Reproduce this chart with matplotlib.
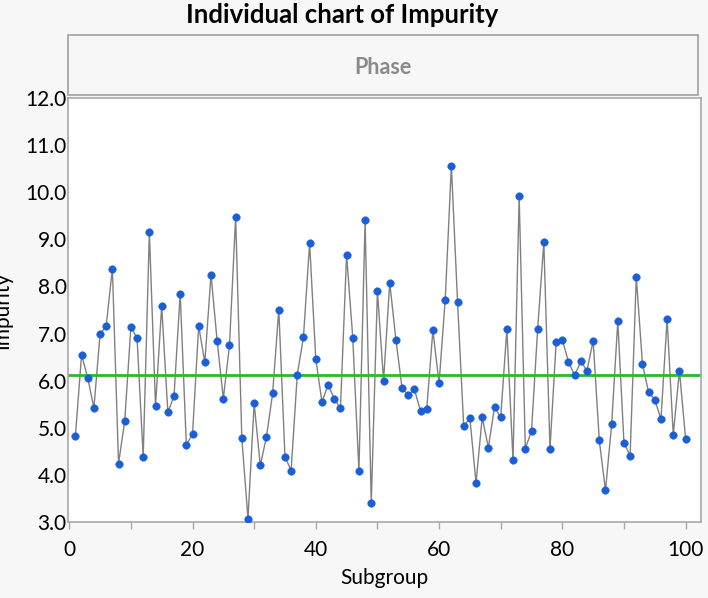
import matplotlib
matplotlib.use("Agg")
import matplotlib.pyplot as plt
from matplotlib.patches import Rectangle
from matplotlib.ticker import MultipleLocator
import numpy as np

subgroup = list(range(1, 101))
impurity = [
    4.82, 6.55, 6.06, 5.42, 6.98, 7.17, 8.38, 4.24, 5.14, 7.13,
    6.91, 4.39, 9.15, 5.46, 7.59, 5.33, 5.67, 7.85, 4.64, 4.86,
    7.16, 6.39, 8.25, 6.84, 5.62, 6.75, 9.48, 4.79, 3.07, 5.52,
    4.20, 4.81, 5.73, 7.51, 4.39, 4.09, 6.13, 6.92, 8.92, 6.46,
    5.55, 5.91, 5.62, 5.41, 8.67, 6.91, 4.09, 9.40, 3.40, 7.90,
    6.00, 8.08, 6.87, 5.84, 5.69, 5.82, 5.35, 5.40, 7.07, 5.94,
    7.72, 10.56, 7.68, 5.03, 5.21, 3.83, 5.22, 4.58, 5.44, 5.22,
    7.09, 4.31, 9.91, 4.56, 4.93, 7.10, 8.94, 4.56, 6.82, 6.87,
    6.40, 6.11, 6.41, 6.21, 6.85, 4.73, 3.67, 5.07, 7.26, 4.68,
    4.41, 8.20, 6.36, 5.75, 5.60, 5.18, 7.30, 4.85, 6.21, 4.77,
]
center_line = 6.12
x_ticks = [0, 20, 40, 60, 80, 100]
y_ticks = [3.0, 4.0, 5.0, 6.0, 7.0, 8.0, 9.0, 10.0, 11.0, 12.0]

W, H = 708, 598
fig = plt.figure(figsize=(W / 100, H / 100), dpi=100)
fig.patch.set_facecolor("#f7f7f7")
plt.rcParams["font.family"] = ["Lato", "DejaVu Sans"]

ax_l, ax_r = 68 / W, 701 / W
ax_b, ax_t = 1 - 522 / H, 1 - 98 / H
ax = fig.add_axes([ax_l, ax_b, ax_r - ax_l, ax_t - ax_b])
ax.set_facecolor("white")

ax.plot(subgroup, impurity, color="#808080", lw=1.0, zorder=2)
ax.scatter(subgroup, impurity, s=30, color="#1a5fd8", edgecolors="#1a5fd8",
           linewidths=0.3, zorder=3)
ax.axhline(center_line, color="#2eb82e", lw=2.0, zorder=2.5)

ax.set_xlim(-0.2, 102.5)
ax.set_ylim(3.0, 12.0)
ax.set_xticks(x_ticks)
ax.xaxis.set_minor_locator(MultipleLocator(10))
ax.set_yticks(y_ticks)
ax.set_yticklabels([f"{v:.1f}" for v in y_ticks])

for s in ax.spines.values():
    s.set_color("#a8a8a8")
    s.set_linewidth(1.2)

ax.tick_params(axis="x", which="both", direction="out", length=5, width=1,
               color="#a8a8a8", labelsize=15, pad=8)
ax.tick_params(axis="y", which="both", length=0, labelsize=15, pad=1)

ax.set_xlabel("Subgroup", fontsize=15, labelpad=6)
ax.set_ylabel("Impurity", fontsize=15, labelpad=4)
ax.yaxis.set_label_coords(-0.088, 0.5)

# Phase header box
bx0, bx1 = 68 / W, 698 / W
by0, by1 = 1 - 95 / H, 1 - 35 / H
fig.patches.append(Rectangle((bx0, by0), bx1 - bx0, by1 - by0,
                             transform=fig.transFigure, facecolor="#f7f7f7",
                             edgecolor="#a0a0a0", lw=1.2))
fig.text((bx0 + bx1) / 2, 1 - 67 / H, "Phase", ha="center", va="center",
         fontsize=15.5, fontweight="bold", color="#8a8a8a")

fig.text(342 / W, 1 - 15 / H, "Individual chart of Impurity", ha="center",
         va="center", fontsize=18.5, fontweight="bold", color="black")

fig.savefig("out.png", dpi=100, facecolor=fig.get_facecolor())
